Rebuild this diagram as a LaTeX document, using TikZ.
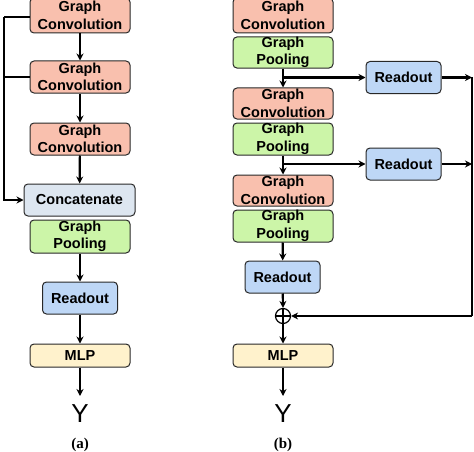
\documentclass[tikz,border=0pt]{standalone}
\usepackage{fontspec}
\setmainfont{Liberation Sans}
\newfontfamily\capfont{Liberation Serif}
\usetikzlibrary{arrows.meta}
\definecolor{gcfill}{RGB}{249,192,174}
\definecolor{gpfill}{RGB}{204,245,168}
\definecolor{rofill}{RGB}{190,215,246}
\definecolor{ccfill}{RGB}{221,230,240}
\definecolor{mlpfill}{RGB}{255,242,204}
\definecolor{edge}{RGB}{40,40,40}
\tikzset{
  blk/.style={draw=edge, line width=1pt, rounded corners=4pt, inner sep=0pt, align=center,
    font=\fontsize{14.5}{17.5}\selectfont\bfseries, minimum width=100pt},
  gcbox/.style={blk, fill=gcfill, minimum height=32pt},
  gpbox/.style={blk, fill=gpfill, minimum height=32pt},
  robox/.style={blk, fill=rofill, minimum height=32pt, minimum width=75pt},
  ccbox/.style={blk, fill=ccfill, minimum height=32pt, minimum width=111pt},
  mlpbox/.style={blk, fill=mlpfill, minimum height=23pt},
  arr/.style={line width=2.2pt, -{Stealth[length=7pt,width=7pt]}},
  ln/.style={line width=2.2pt},
  ylab/.style={font=\fontsize{26}{28}\selectfont},
  captext/.style={font=\capfont\fontsize{15}{17}\selectfont\bfseries}
}
\begin{document}
\begin{tikzpicture}[x=1pt,y=-1pt]
\useasboundingbox (0,0) rectangle (474,452);
% ---- (a) ----
\node[gcbox, minimum height=35pt] (a1) at (80,15.5) {Graph\\Convolution};
\node[gcbox] (a2) at (80,77) {Graph\\Convolution};
\node[gcbox] (a3) at (80,139) {Graph\\Convolution};
\node[ccbox] (ac) at (79.5,200) {Concatenate};
\node[gpbox, minimum height=33pt] (ap) at (80,236.5) {Graph\\Pooling};
\node[robox] (ar) at (80,298) {Readout};
\node[mlpbox] (am) at (80,355.5) {MLP};
\node[ylab] (ay) at (80,414) {Y};
\node[captext] (acap) at (80,445) {(a)};
\coordinate (abus1) at (4,17);
\coordinate (abus2) at (4,200);
\draw[arr] (a1) -- (a2);
\draw[arr] (a2) -- (a3);
\draw[arr] (a3) -- (ac);
\draw[ln] (a1.west |- abus1) -- (abus1);
\draw[ln] (a2.west) -- (a2.west -| abus1);
\draw[arr] (abus1) -- (abus2) -- (ac.west);
\draw[arr] (ap) -- (ar);
\draw[arr] (ar) -- (am);
\draw[arr] (am.south) -- (80,396);
% ---- (b) ----
\node[gcbox, minimum height=35pt] (b1) at (283,15.5) {Graph\\Convolution};
\node[gpbox, minimum height=31pt] (bp1) at (283,52.5) {Graph\\Pooling};
\node[gcbox, minimum height=31pt] (b2) at (283,103.5) {Graph\\Convolution};
\node[gpbox] (bp2) at (283,139) {Graph\\Pooling};
\node[gcbox, minimum height=31pt] (b3) at (283,190.5) {Graph\\Convolution};
\node[gpbox] (bp3) at (283,226) {Graph\\Pooling};
\node[robox] (br1) at (403.5,77.5) {Readout};
\node[robox] (br2) at (403.5,164) {Readout};
\node[robox] (br3) at (282.5,277) {Readout};
\node[draw, line width=1.2pt, circle, minimum size=15pt, inner sep=0pt] (plus) at (283,316) {};
\draw[line width=1.2pt] (plus.north) -- (plus.south) (plus.west) -- (plus.east);
\node[mlpbox] (bm) at (283,355.5) {MLP};
\node[ylab] (by) at (283,414) {Y};
\node[captext] (bcap) at (283,445) {(b)};
\coordinate (j1) at (283,77.5);
\coordinate (j2) at (283,164);
\coordinate (r1) at (472,77.5);
\coordinate (r2) at (472,164);
\coordinate (r3) at (472,316);
\draw[arr] (bp1) -- (b2);
\draw[arr] (j1) -- (br1.west);
\draw[arr] (bp2) -- (b3);
\draw[arr] (j2) -- (br2.west);
\draw[arr] (br1.east) -- (r1);
\draw[arr] (br2.east) -- (r2);
\draw[ln] (r1) -- (r3);
\draw[arr] (r3) -- (plus.east);
\draw[arr] (bp3) -- (br3);
\draw[arr] (br3) -- (plus.north);
\draw[arr] (plus.south) -- (bm.north);
\draw[arr] (bm.south) -- (283,396);
\end{tikzpicture}
\end{document}
